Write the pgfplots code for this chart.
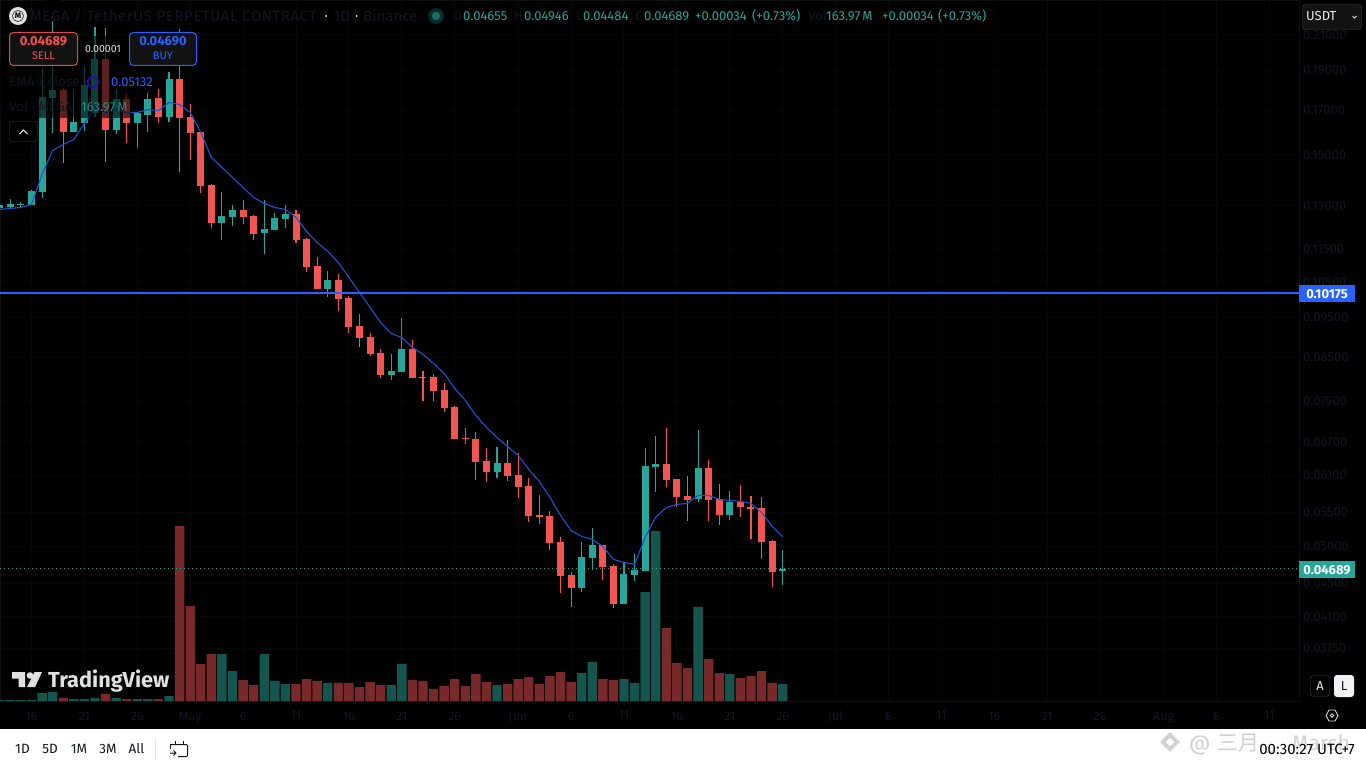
\documentclass[border=0pt]{standalone}
\usepackage{fontspec}
\setmainfont{Fira Sans}
\newfontfamily\cjk{Noto Sans CJK SC}
\usepackage{pgfplots}
\usepackage{pgfplotstable}
\pgfplotsset{compat=1.18}

\definecolor{tvgreen}{HTML}{26A69A}
\definecolor{tvred}{HTML}{F35552}
\definecolor{volgreen}{HTML}{14554F}
\definecolor{volred}{HTML}{782A2B}
\definecolor{tvblue}{HTML}{2962FF}
\definecolor{emablue}{HTML}{2352CC}
\definecolor{dimtext}{HTML}{131722}
\definecolor{gridc}{HTML}{07080A}
\definecolor{sepc}{HTML}{0F1013}
\definecolor{boxc}{HTML}{121212}

% day number: 0 = 16 Apr, prices in USDT
\pgfplotstableread{
d o h l c
-3 .12899 .13192 .12863 .13008
-2 .12935 .13229 .12899 .13045
-1 .13008 .13118 .12935 .13045
0 .13008 .13568 .13008 .13530
1 .13492 .19215 .13267 .17663
2 .17613 .21863 .15921 .18014
4 .15966 .18064 .15966 .16421
5 .16374 .19215 .16011 .18268
6 .16841 .21498 .16699 .19651
8 .16056 .18064 .15877 .17564
10 .16374 .16888 .15264 .16841
11 .16746 .17862 .15966 .17564
13 .16699 .18947 .16421 .18578
18 .12367 .13492 .11791 .12613
19 .12577 .13008 .12264 .12827
22 .12025 .13192 .11337 .12161
23 .12127 .12719 .12127 .12542
24 .12507 .13008 .12195 .12684
28 .10276 .10809 .10048 .10539
34 .08072 .08562 .07960 .08163
35 .08140 .09474 .08140 .08683
44 .06148 .06595 .06046 .06306
52 .04439 .05052 .04389 .04843
53 .04829 .05254 .04669 .05009
56 .04244 .04775 .04244 .04617
57 .04604 .04884 .04527 .04669
58 .04656 .06577 .04656 .06253
59 .06235 .06803 .05812 .06288
63 .05699 .06917 .05651 .06218
66 .05449 .05829 .05373 .05651
71 .04655 .04946 .04484 .04689
}\upcandles

\pgfplotstableread{
d o h l c
3 .18014 .18115 .14635 .15966
7 .19651 .21378 .14676 .16056
9 .17564 .17763 .15480 .16374
12 .17613 .18064 .16374 .16699
14 .18578 .21318 .14271 .16606
15 .16653 .17319 .14800 .15921
16 .15966 .15966 .13454 .13720
17 .13759 .13798 .12195 .12367
20 .12827 .13192 .12333 .12577
21 .12613 .12648 .11791 .11992
25 .12684 .12827 .11692 .11791
26 .11824 .11858 .10778 .10930
27 .10961 .11242 .10276 .10276
29 .10539 .10718 .09661 .09991
30 .10019 .10076 .09082 .09237
31 .09263 .09580 .08732 .08955
32 .08980 .09082 .08514 .08562
33 .08586 .08683 .08004 .08072
36 .08683 .08905 .08004 .08004
37 .08027 .08163 .07504 .08004
38 .08027 .08095 .07504 .07717
39 .07739 .07893 .07276 .07358
40 .07379 .07399 .06744 .06744
41 .06763 .06956 .06651 .06744
42 .06744 .06878 .06012 .06323
43 .06341 .06577 .05978 .06148
45 .06306 .06726 .05995 .06079
46 .06097 .06485 .05715 .05895
47 .05912 .06046 .05343 .05434
48 .05449 .05764 .05313 .05419
49 .05434 .05511 .04939 .05037
50 .05052 .05122 .04377 .04591
51 .04604 .04643 .04208 .04439
54 .05009 .05009 .04540 .04708
55 .04722 .04748 .04197 .04244
60 .06288 .06956 .05895 .06012
61 .06029 .06029 .05572 .05731
62 .05747 .06079 .05358 .05683
64 .06218 .06359 .05358 .05683
65 .05699 .05945 .05298 .05449
67 .05651 .05928 .05419 .05572
68 .05572 .05747 .05094 .05541
69 .05556 .05731 .04816 .05052
70 .05066 .05080 .04452 .04643
}\downcandles

% EMA 7
\pgfplotstableread{
d e
-3 .12863
-2 .12899
-1 .12935
0 .13045
1 .14191
2 .15179
3 .15437
4 .15655
5 .16374
6 .17126
7 .16888
8 .17030
9 .16888
10 .16888
11 .17030
12 .16983
13 .17368
14 .17271
15 .16888
16 .15966
17 .14884
18 .14472
19 .14072
20 .13683
21 .13304
22 .13081
23 .12935
24 .12863
25 .12577
26 .12093
27 .11725
28 .11433
29 .11085
30 .10628
31 .10190
32 .09770
33 .09367
34 .09082
35 .08980
36 .08732
37 .08562
38 .08348
39 .08117
40 .07783
41 .07525
42 .07215
43 .06976
44 .06783
45 .06613
46 .06449
47 .06200
48 .05995
49 .05731
50 .05449
51 .05224
52 .05137
53 .05094
54 .04995
55 .04816
56 .04775
57 .04748
58 .05122
59 .05419
60 .05572
61 .05620
62 .05636
63 .05764
64 .05764
65 .05699
66 .05683
67 .05667
68 .05636
69 .05496
70 .05284
71 .05132
}\ema

% volume in millions
\pgfplotstableread{
d v
-3 10
-2 10
-1 10
0 10
1 77
2 87
4 19
5 19
6 29
8 29
10 19
11 19
13 48
18 453
19 289
22 453
23 193
24 164
28 174
34 154
35 357
44 154
52 270
53 376
56 212
57 174
58 1051
59 1640
63 907
66 260
71 163.97
}\upvol

\pgfplotstableread{
d v
3 29
7 68
9 19
12 19
14 1688
15 916
16 357
17 453
20 203
21 154
25 164
26 212
27 193
29 174
30 174
31 135
32 183
33 154
36 203
37 193
38 116
39 145
40 212
41 145
42 260
43 183
45 164
46 212
47 231
48 164
49 241
50 280
51 183
54 212
55 203
60 704
61 367
62 318
64 405
65 270
67 222
68 241
69 289
70 174
}\downvol

\pgfplotsset{
  tvaxis/.style={
    at={(0pt,-701pt)}, anchor=south west,
    width=1299pt, height=701pt, scale only axis,
    xmin=-2.977, xmax=119.8,
    major tick length=0pt, clip=true,
  },
  wick/.style={draw=none, forget plot,
    error bars/.cd, y dir=both, y explicit, error mark=none,
    error bar style={solid, line width=1.1pt, draw=#1}},
  body/.style={draw=none, forget plot,
    error bars/.cd, y dir=plus, y explicit, error mark=none,
    error bar style={solid, line width=7pt, draw=#1}},
}

\newcommand{\fs}[1]{\fontsize{#1}{#1}\selectfont}

\begin{document}
\begin{tikzpicture}
  \useasboundingbox (0pt,0pt) rectangle (1366pt,-768pt);
  \fill[black] (0pt,0pt) rectangle (1366pt,-729pt);
  \fill[white] (0pt,-729pt) rectangle (1366pt,-768pt);

  % grid and tick labels
  \begin{axis}[tvaxis,
      ymode=log, ymin=.03236, ymax=.23158,
      axis line style={draw=sepc},
      xtick={0,5,10,15,20,25,30,35,40,46,51,56,61,66,71,76,81,86,91,96,101,107,112,117},
      xticklabels={16,21,26,May,6,11,16,21,26,Jun,6,11,16,21,26,Jul,6,11,16,21,26,Aug,6,11},
      ytick={.21,.19,.17,.15,.13,.115,.105,.095,.085,.075,.067,.061,.055,.05,.045,.041,.0375},
      yticklabels={0.21000,0.19000,0.17000,0.15000,0.13000,0.11500,0.10500,0.09500,0.08500,0.07500,0.06700,0.06100,0.05500,0.05000,0.04500,0.04100,0.03750},
      yminorticks=false,
      grid=major, grid style={draw=gridc, line width=1pt},
      yticklabel pos=right,
      xticklabel style={font=\fs{12.5}, text=dimtext, yshift=-7pt},
      yticklabel style={font=\fs{13}, text=dimtext, anchor=west, inner sep=0pt, xshift=4pt},
    ]
    \addplot[draw=none, forget plot] coordinates {(0,.1) (1,.1)};
  \end{axis}

  % volume
  \begin{axis}[tvaxis, ymin=0, ymax=6761, axis lines=none, ybar, bar width=9.4pt]
    \addplot[fill=volgreen, draw=none, bar shift=0pt] table[x=d, y=v] {\upvol};
    \addplot[fill=volred, draw=none, bar shift=0pt] table[x=d, y=v] {\downvol};
  \end{axis}

  % candles, EMA, price lines
  \begin{axis}[tvaxis, ymode=log, ymin=.03236, ymax=.23158, axis lines=none]
    \addplot[tvgreen, dash pattern=on 1pt off 3pt, line width=1pt] coordinates {(-2.977,.04689) (119.8,.04689)};
    \addplot[wick=tvgreen] table[x=d, y=o, y error plus expr=\thisrow{h}-\thisrow{o}, y error minus expr=\thisrow{o}-\thisrow{l}] {\upcandles};
    \addplot[wick=tvred] table[x=d, y=o, y error plus expr=\thisrow{h}-\thisrow{o}, y error minus expr=\thisrow{o}-\thisrow{l}] {\downcandles};
    \addplot[body=tvgreen] table[x=d, y=o, y error plus expr=\thisrow{c}-\thisrow{o}] {\upcandles};
    \addplot[body=tvred] table[x=d, y=c, y error plus expr=\thisrow{o}-\thisrow{c}] {\downcandles};
    \addplot[emablue, line width=1.1pt] table[x=d, y=e] {\ema};
    \addplot[tvblue, line width=2pt] coordinates {(-2.977,.10175) (119.8,.10175)};
  \end{axis}

  \begin{scope}[x=1pt, y=-1pt]
    % dimming behind the legend rows
    \fill[black, opacity=.62] (0,58) rectangle (131,118);
    \fill[black, opacity=.62] (82,36) rectangle (126,58);
    \fill[black] (46,0) rectangle (60,20);

    % header
    \fill[black!12] (18,16) circle (9);
    \draw[black!75, line width=.7pt] (18,16) circle (5.6);
    \node[text=black, font=\fs{8}\bfseries] at (18,16) {M};
    \node[anchor=base west, inner sep=0, text=dimtext, font=\fs{15}\addfontfeatures{LetterSpace=4}] at (30,21.5) {MEGA / TetherUS PERPETUAL CONTRACT};
    \fill[white] (326,16) circle (1);
    \node[anchor=base, inner sep=0, text=dimtext, font=\fs{15}] at (342,21.5) {1D};
    \fill[white] (356.5,16) circle (1);
    \node[anchor=base west, inner sep=0, text=dimtext, font=\fs{15}] at (363,21.5) {Binance};
    \fill[tvgreen!25!black] (436,16) circle (8);
    \fill[tvgreen!65!black] (436,16) circle (4.2);
    \begin{scope}[every node/.style={anchor=base west, inner sep=0, font=\fs{13}}]
      \node[text=dimtext] at (453,21) {O};
      \node[text=tvgreen] at (463,21) {0.04655};
      \node[text=dimtext] at (514,21) {H};
      \node[text=tvgreen] at (524,21) {0.04946};
      \node[text=dimtext] at (576,21) {L};
      \node[text=tvgreen] at (583,21) {0.04484};
      \node[text=dimtext] at (635,21) {C};
      \node[text=tvgreen] at (644,21) {0.04689};
      \node[text=tvgreen] at (695,21) {+0.00034};
      \node[text=tvgreen] at (752,21) {(+0.73\%)};
      \node[text=dimtext] at (808,21) {Vol};
      \node[text=tvgreen] at (826,21) {163.97\,M};
      \node[text=tvgreen] at (882,21) {+0.00034};
      \node[text=tvgreen] at (938,21) {(+0.73\%)};
    \end{scope}

    % sell and buy boxes
    \draw[draw=tvred!90!black, fill=boxc, rounded corners=4pt, line width=1pt] (9.5,32.5) rectangle (77.5,65.5);
    \node[text=tvred, font=\fs{13}\bfseries] at (43.5,41.5) {0.04689};
    \node[text=tvred, font=\fs{11}] at (43.5,56) {SELL};
    \draw[draw=tvblue, fill=boxc, rounded corners=4pt, line width=1pt] (129.5,32.5) rectangle (196.5,65.5);
    \node[text=tvblue, font=\fs{13}\bfseries] at (163,41.5) {0.04690};
    \node[text=tvblue, font=\fs{11}] at (163,56) {BUY};
    \node[text=black!10, font=\fs{10.5}] at (103,48.5) {0.00001};

    % legend rows
    \node[anchor=base west, inner sep=0, text=dimtext, font=\fs{13.5}] at (9,87) {EMA 7 close};
    \draw[blue!70!purple, line width=1.4pt] (93,82) circle (5.5);
    \node[anchor=base west, inner sep=0, text=tvblue, font=\fs{13}] at (111,87) {0.05132};
    \node[anchor=base west, inner sep=0, text=dimtext, font=\fs{13.5}] at (9,111) {Vol · MEGA};
    \node[anchor=base west, inner sep=0, text=tvgreen!85!black, font=\fs{13}] at (81,111) {163.97\,M};
    \draw[black!75!white, fill=black, rounded corners=2pt] (9.5,121.5) rectangle (37.5,141.5);
    \draw[white, line width=1pt] (19.5,134) -- (23.5,130) -- (27.5,134);

    % TradingView mark
    \fill[black!12] (12,672) -- (25,672) -- (25,687) -- (18.5,687) -- (18.5,678.5) -- (12,678.5) -- cycle;
    \fill[black!12] (30,675.5) circle (3.3);
    \fill[black!12] (42,672) -- (34.5,672) -- (27,687) -- (35,687) -- cycle;
    \node[anchor=base west, inner sep=0, text=black!12, font=\fs{21.7}\bfseries] at (48,687) {TradingView};

    % price tags
    \fill[tvblue] (1299,285) rectangle (1355,302);
    \node[text=white, font=\fs{13}\bfseries] at (1327,293.8) {0.10175};
    \fill[tvgreen] (1299,561) rectangle (1355,578);
    \node[text=white, font=\fs{13}\bfseries] at (1327,569.8) {0.04689};

    % currency box
    \draw[draw=black!72!white, fill=boxc, rounded corners=3pt] (1302.5,4.5) rectangle (1361.5,29.5);
    \node[anchor=base west, inner sep=0, text=black!8, font=\fs{13}] at (1306,21) {USDT};
    \draw[black!15, line width=.9pt] (1352.5,16) -- (1354.5,18) -- (1356.5,16);

    % A and L buttons, settings
    \draw[draw=black!72!white, rounded corners=3pt] (1310.5,675.5) rectangle (1329.5,696.5);
    \node[text=black!8, font=\fs{13}] at (1320,686) {A};
    \fill[black!5, rounded corners=3pt] (1334,675) rectangle (1354,697);
    \node[text=dimtext, font=\fs{13}] at (1344,686) {L};
    \draw[black!15, line width=.9pt] (1326,715.5) -- (1329,710) -- (1335,710) -- (1338,715.5) -- (1335,721) -- (1329,721) -- cycle;
    \draw[black!15, line width=.8pt] (1332,715.5) circle (1.7);

    % bottom bar
    \begin{scope}[every node/.style={text=dimtext, font=\fs{13.5}}]
      \node at (22.5,749) {1D};
      \node at (50,749) {5D};
      \node at (79,749) {1M};
      \node at (108,749) {3M};
      \node at (136.5,749) {All};
    \end{scope}
    \draw[black!10] (155.5,738) -- (155.5,760);
    \draw[dimtext, line width=1pt, rounded corners=1pt] (170,744.5) -- (187.5,744.5) -- (187.5,756.5) -- (178,756.5);
    \draw[dimtext, line width=1pt] (170,744.5) -- (170,749) (175,740.5) -- (175,744) (183,740.5) -- (183,744);
    \draw[dimtext, line width=1pt] (170,753) -- (176,753) (173.5,750.5) -- (176,753) -- (173.5,755.5);

    % reposted watermark
    \fill[black!18, rotate around={45:(1170,742)}] (1163,735) rectangle (1177,749);
    \fill[white, rotate around={45:(1170,742)}] (1167,739) rectangle (1173,745);
    \node[anchor=base west, inner sep=0, text=black!18, font=\fs{21}] at (1189,750) {@};
    \node[anchor=base west, inner sep=0, text=black!18, font=\cjk\fs{21}] at (1217,750) {三月};
    \node[anchor=base west, inner sep=0, text=black!18, font=\fs{21}] at (1264,750) {\_};
    \node[anchor=base west, inner sep=0, text=black!18, font=\fs{21}] at (1292,750) {March};
    \node[anchor=base east, inner sep=0, text=black, font=\fs{15}] at (1355,754) {00:30:27 UTC+7};
  \end{scope}
\end{tikzpicture}
\end{document}
